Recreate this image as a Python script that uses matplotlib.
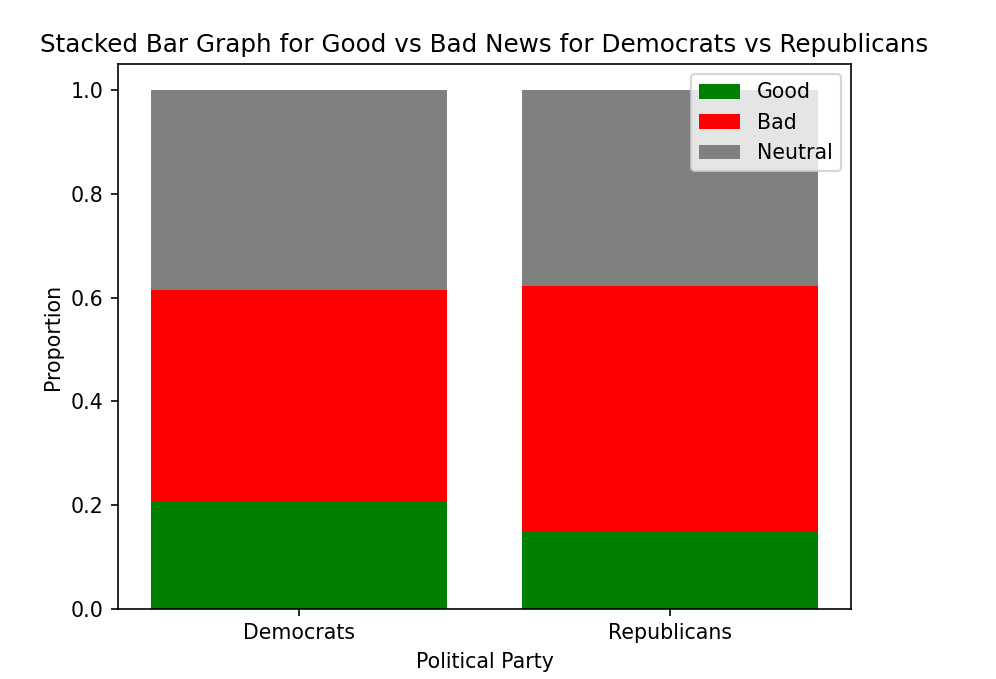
import matplotlib
matplotlib.use("Agg")
import matplotlib.pyplot as plt

parties = ["Democrats", "Republicans"]
good = [0.207, 0.148]
bad = [0.408, 0.475]
neutral = [1 - g - b for g, b in zip(good, bad)]

fig = plt.figure(figsize=(996 / 148, 679 / 148), dpi=148)
ax = fig.add_axes([118 / 996, 1 - 609 / 679, (851 - 118) / 996, (609 - 64) / 679])

ax.bar(parties, good, color="green", label="Good")
ax.bar(parties, bad, bottom=good, color="red", label="Bad")
bottom2 = [g + b for g, b in zip(good, bad)]
ax.bar(parties, neutral, bottom=bottom2, color="gray", label="Neutral")

ax.set_xlabel("Political Party")
ax.set_ylabel("Proportion")
ax.set_title("Stacked Bar Graph for Good vs Bad News for Democrats vs Republicans")
ax.legend()

fig.savefig("out.png", dpi=148)
